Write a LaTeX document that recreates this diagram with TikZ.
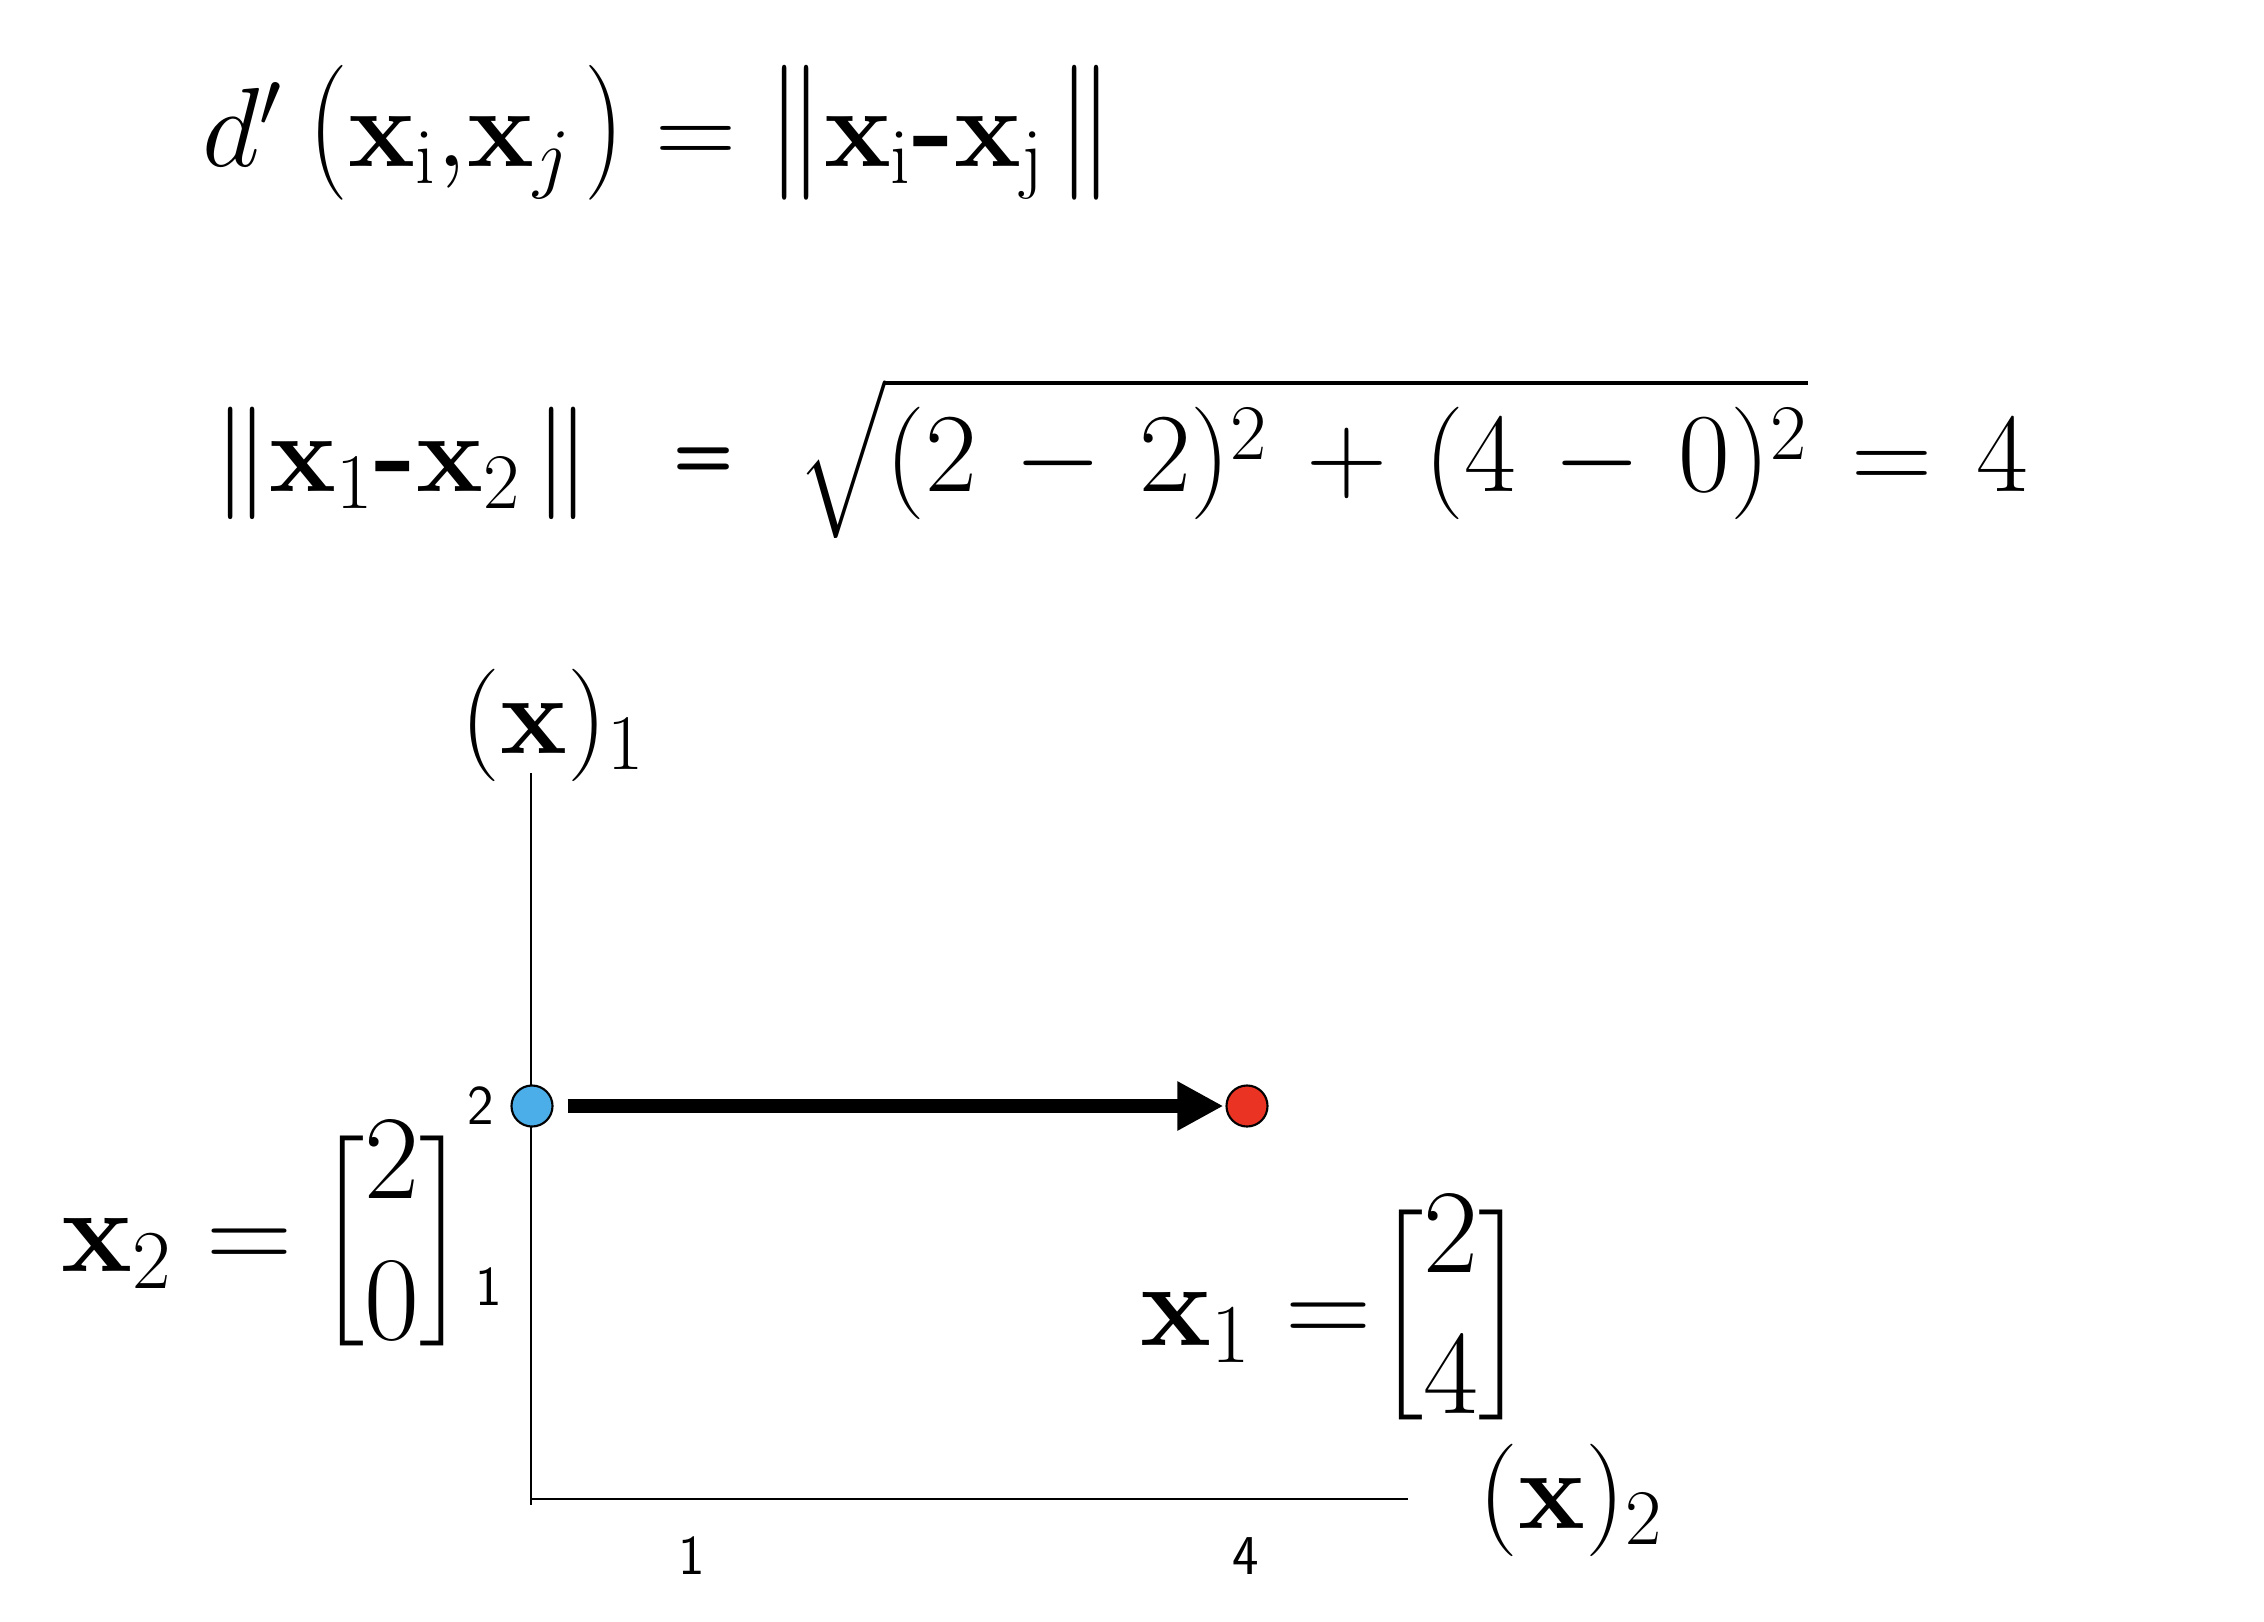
\RequirePackage{fix-cm}
\documentclass[tikz,border=0pt]{standalone}
\usepackage{amsmath}
\usepackage{graphicx}
\usepackage{xcolor}
\usetikzlibrary{arrows.meta}
\definecolor{dotblue}{HTML}{4BAEE8}
\definecolor{dotred}{HTML}{EA3323}
\newcommand{\tightdelims}{\delimitershortfall 30pt\delimiterfactor 600 }
\newcommand{\tall}[1]{\scalebox{1}[1.2]{$#1$}}

\begin{document}
\begin{tikzpicture}[x=0.01cm, y=-0.01cm,
                    formula/.style = {font=\fontsize{32}{38}\selectfont, inner sep=0pt},
                    vecfont/.style = {font=\fontsize{34}{40}\selectfont, inner sep=0pt},
                    ticklabel/.style = {font=\sffamily\fontsize{16}{19}\selectfont, inner sep=0pt},
                    sample/.style = {circle, draw=black, line width=0.6pt, minimum size=0.41cm, inner sep=0pt}]
                      \useasboundingbox (0,0) rectangle (2264,1622);
                      \def\xaxis{1499}
                      \def\gap{\mkern2mu}

                      % distance formulas
                      \node[formula, anchor = base west] (dist) at (202, 167)
                        {$d'\mkern4mu\mathopen{\tall{(}}\mathbf{x}_{\mathrm{i}}{,}\mathbf{x}_{j}\mkern2mu\mathclose{\tall{)}} = \mathopen{\tall{\|}}\mathbf{x}_{\mathrm{i}}\text{\bfseries -}\mathbf{x}_{\mathrm{j}}\mkern2mu\mathclose{\tall{\|}}$};
                      \node[formula, anchor = base west] (norm) at (213, 492)
                        {$\|\mathbf{x}_1\text{\bfseries -}\mathbf{x}_2\mkern2mu\|$};
                      \node[anchor = base, inner sep=0pt, font=\sffamily\bfseries\fontsize{20}{24}\selectfont] (eqsign) at (704, 477) {=};
                      \node[formula, anchor = base west] (root) at (797, 492)
                        {$\sqrt{(2\gap-\gap2)^2\gap+\gap(4\gap-\gap0)^2}\gap=\gap4$};

                      % axes
                      \coordinate (ytop) at (531, 773);
                      \coordinate (ybot) at (531, \xaxis+6);
                      \coordinate (origin) at (531, \xaxis);
                      \coordinate (xend) at (1408, \xaxis);
                      \draw[line width=0.5pt] (ytop) -- (ybot);
                      \draw[line width=0.8pt] (origin) -- (xend);
                      \node[formula, anchor = base west] (ylabel) at (460, 753) {$(\mathbf{x})_1$};
                      \node[formula, anchor = base west] (xlabel) at (1478, 1528) {$(\mathbf{x})_2$};

                      \node[ticklabel] (ytwo) at (481, 1106) {2};
                      \node[ticklabel] (yone) at (489, 1287) {1};
                      \node[ticklabel] (xone) at (692, 1556) {1};
                      \node[ticklabel] (xfour) at (1246, 1556) {4};

                      % the two points
                      \node[sample, fill=dotblue] (x2dot) at (532, 1106) {};
                      \node[sample, fill=dotred] (x1dot) at (1247, 1106) {};
                      \draw[line width=4.2pt, -{Triangle[length=0.46cm, width=0.46cm]},
                            shorten <=0.14cm, shorten >=0.02cm] (x2dot) -- (x1dot);

                      \node[vecfont, anchor = base west] (x2vec) at (61, 1271)
                        {$\tightdelims\mathbf{x}_2 = \mkern-1mu\begin{bmatrix} 2 \\ 0 \end{bmatrix}$};
                      \node[vecfont, anchor = base west] (x1vec) at (1140, 1345)
                        {$\tightdelims\mathbf{x}_1 = \mkern-4mu\begin{bmatrix} 2 \\ 4 \end{bmatrix}$};
\end{tikzpicture}
\end{document}
